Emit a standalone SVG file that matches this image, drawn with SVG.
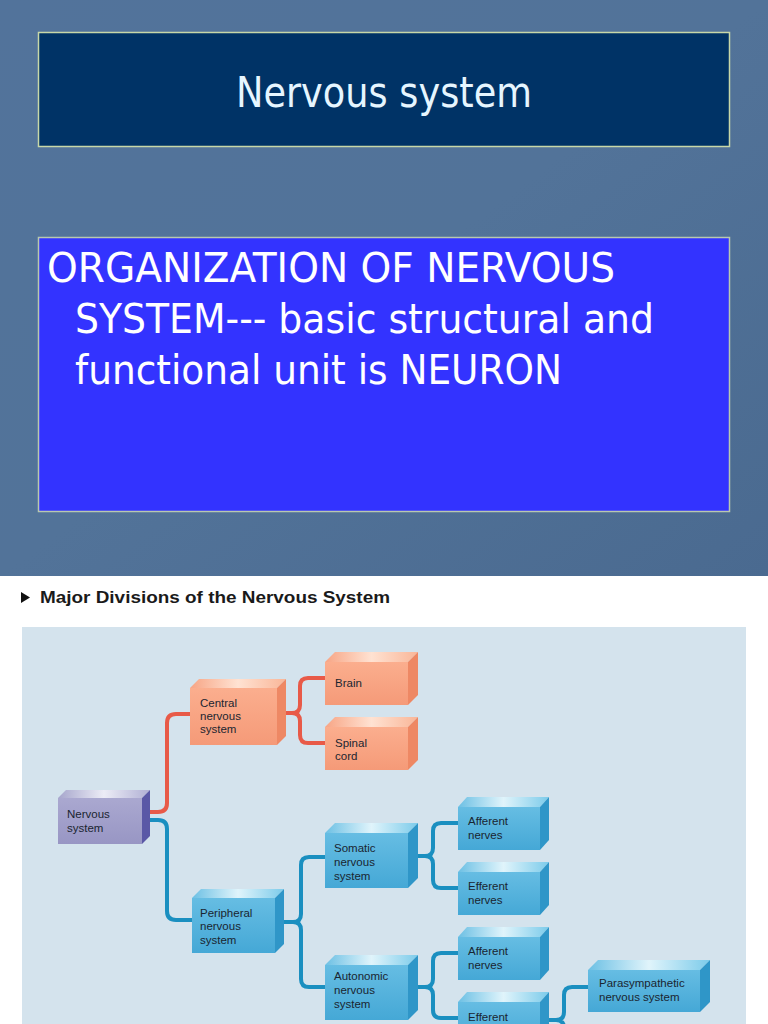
<svg xmlns="http://www.w3.org/2000/svg" width="768" height="1024" viewBox="0 0 768 1024">
<defs>
<linearGradient id="slideBg" x1="0" y1="0" x2="1" y2="1">
<stop offset="0" stop-color="#52739b"/>
<stop offset="0.5" stop-color="#527399"/>
<stop offset="1" stop-color="#4a6a90"/>
</linearGradient>
<linearGradient id="salFront" x1="0" y1="0" x2="0" y2="1"><stop offset="0" stop-color="#fbae8e"/><stop offset="1" stop-color="#f59a78"/></linearGradient>
<linearGradient id="bluFront" x1="0" y1="0" x2="0" y2="1"><stop offset="0" stop-color="#66bde3"/><stop offset="1" stop-color="#45a8d6"/></linearGradient>
<linearGradient id="purFront" x1="0" y1="0" x2="0" y2="1"><stop offset="0" stop-color="#aaa8d0"/><stop offset="1" stop-color="#9896c4"/></linearGradient>
<linearGradient id="salTop" x1="0" y1="0" x2="1" y2="0"><stop offset="0" stop-color="#f7a585"/><stop offset="0.5" stop-color="#ffe2d2"/><stop offset="1" stop-color="#f9b698"/></linearGradient>
<linearGradient id="bluTop" x1="0" y1="0" x2="1" y2="0"><stop offset="0" stop-color="#6cc0e4"/><stop offset="0.5" stop-color="#e0f4fb"/><stop offset="1" stop-color="#7ccbea"/></linearGradient>
<linearGradient id="purTop" x1="0" y1="0" x2="1" y2="0"><stop offset="0" stop-color="#a6a6cc"/><stop offset="0.5" stop-color="#ececf6"/><stop offset="1" stop-color="#b0b0d4"/></linearGradient>
</defs>
<style>
.nodeTxt{font-family:"Liberation Sans",Arial,sans-serif;font-size:11.5px;fill:#1a2530}
.sal .front{fill:url(#salFront)} .sal .top{fill:url(#salTop)} .sal .side{fill:#ee8864}
.blu .front{fill:url(#bluFront)} .blu .top{fill:url(#bluTop)} .blu .side{fill:#2f96c8}
.pur .front{fill:url(#purFront)} .pur .top{fill:url(#purTop)} .pur .side{fill:#5a58a6}
.red{fill:none;stroke:#e85a48;stroke-width:4}
.blue{fill:none;stroke:#1a8fc0;stroke-width:4}
</style>

<!-- slide background -->
<rect x="0" y="0" width="768" height="576" fill="url(#slideBg)"/>
<g id="title">
<rect x="38.5" y="32.5" width="691" height="114" fill="#003366" stroke="#c8d8a8" stroke-width="1.5"/>
<text x="384" y="107" text-anchor="middle" font-family="DejaVu Sans Condensed,DejaVu Sans,sans-serif" font-size="43" fill="#e6f6ff" textLength="296" lengthAdjust="spacingAndGlyphs">Nervous system</text>
</g>
<g id="content">
<rect x="38.5" y="237.5" width="691" height="274" fill="#3333ff" stroke="#b8c8b0" stroke-width="1.5"/>
<g font-family="DejaVu Sans Condensed,DejaVu Sans,sans-serif" font-size="41" fill="#ffffff">
<text x="47" y="282" textLength="568" lengthAdjust="spacingAndGlyphs">ORGANIZATION OF NERVOUS</text>
<text x="75" y="333" textLength="579" lengthAdjust="spacingAndGlyphs">SYSTEM--- basic structural and</text>
<text x="75" y="384" textLength="487" lengthAdjust="spacingAndGlyphs">functional unit is NEURON</text>
</g>
</g>

<!-- lower figure -->
<rect x="0" y="576" width="768" height="448" fill="#ffffff"/>
<g id="figure-heading">
<polygon points="21,592 30,597.5 21,603" fill="#111"/>
<text x="40" y="603" font-family="Liberation Sans,Arial,sans-serif" font-weight="bold" font-size="16" fill="#1a1a1a" textLength="350" lengthAdjust="spacingAndGlyphs">Major Divisions of the Nervous System</text>
</g>
<rect x="22" y="627" width="724" height="397" fill="#d4e3ed"/>

<g id="connectors">
<path class="red" d="M145,812 H158 Q167,812 167,803 V723 Q167,714 176,714 H191"/>
<path class="blue" d="M145,820 H158 Q167,820 167,829 V911 Q167,920 176,920 H193"/>
<path class="red" d="M284,713 H292 Q300,713 300,705 V686 Q300,678 308,678 H326 M292,713 Q300,713 300,721 V735 Q300,743 308,743 H326"/>
<path class="blue" d="M282,922 H293 Q301,922 301,914 V865 Q301,857 309,857 H326 M293,922 Q301,922 301,930 V979 Q301,987 309,987 H326"/>
<path class="blue" d="M417,856 H425 Q433,856 433,848 V831 Q433,823 441,823 H459 M425,856 Q433,856 433,864 V880 Q433,888 441,888 H459"/>
<path class="blue" d="M417,987 H425 Q433,987 433,979 V961 Q433,953 441,953 H459 M425,987 Q433,987 433,995 V1010 Q433,1018 441,1018 H459"/>
<path class="blue" d="M547,1020 H556 Q564,1020 564,1012 V995 Q564,987 572,987 H589 M556,1020 Q564,1020 564,1028"/>
</g>

<g id="node-nervous" class="pur">
<polygon class="top" points="58,798 66,790 150,790 142,798"/>
<polygon class="side" points="142,798 150,790 150,836 142,844"/>
<rect class="front" x="58" y="798" width="84" height="46"/>
<text class="nodeTxt" x="67" y="818">Nervous</text>
<text class="nodeTxt" x="67" y="832">system</text>
</g>

<g id="node-cns" class="sal">
<polygon class="top" points="190,688 199,679 286,679 277,688"/>
<polygon class="side" points="277,688 286,679 286,736 277,745"/>
<rect class="front" x="190" y="688" width="87" height="57"/>
<text class="nodeTxt" x="200" y="707">Central</text>
<text class="nodeTxt" x="200" y="720">nervous</text>
<text class="nodeTxt" x="200" y="733">system</text>
</g>

<g id="node-brain" class="sal">
<polygon class="top" points="325,662 335,652 418,652 408,662"/>
<polygon class="side" points="408,662 418,652 418,695 408,705"/>
<rect class="front" x="325" y="662" width="83" height="43"/>
<text class="nodeTxt" x="335" y="687">Brain</text>
</g>

<g id="node-spinal" class="sal">
<polygon class="top" points="325,727 335,717 418,717 408,727"/>
<polygon class="side" points="408,727 418,717 418,760 408,770"/>
<rect class="front" x="325" y="727" width="83" height="43"/>
<text class="nodeTxt" x="335" y="747">Spinal</text>
<text class="nodeTxt" x="335" y="760">cord</text>
</g>

<g id="node-peripheral" class="blu">
<polygon class="top" points="192,898 201,889 284,889 275,898"/>
<polygon class="side" points="275,898 284,889 284,944 275,953"/>
<rect class="front" x="192" y="898" width="83" height="55"/>
<text class="nodeTxt" x="200" y="917">Peripheral</text>
<text class="nodeTxt" x="200" y="930">nervous</text>
<text class="nodeTxt" x="200" y="944">system</text>
</g>

<g id="node-somatic" class="blu">
<polygon class="top" points="325,833 335,823 418,823 408,833"/>
<polygon class="side" points="408,833 418,823 418,878 408,888"/>
<rect class="front" x="325" y="833" width="83" height="55"/>
<text class="nodeTxt" x="334" y="852">Somatic</text>
<text class="nodeTxt" x="334" y="866">nervous</text>
<text class="nodeTxt" x="334" y="880">system</text>
</g>

<g id="node-autonomic" class="blu">
<polygon class="top" points="325,965 335,955 418,955 408,965"/>
<polygon class="side" points="408,965 418,955 418,1010 408,1020"/>
<rect class="front" x="325" y="965" width="83" height="55"/>
<text class="nodeTxt" x="334" y="980">Autonomic</text>
<text class="nodeTxt" x="334" y="994">nervous</text>
<text class="nodeTxt" x="334" y="1008">system</text>
</g>

<g id="node-afferent-somatic" class="blu">
<polygon class="top" points="458,807 467,797 549,797 540,807"/>
<polygon class="side" points="540,807 549,797 549,840 540,850"/>
<rect class="front" x="458" y="807" width="82" height="43"/>
<text class="nodeTxt" x="468" y="825">Afferent</text>
<text class="nodeTxt" x="468" y="839">nerves</text>
</g>

<g id="node-efferent-somatic" class="blu">
<polygon class="top" points="458,872 467,862 549,862 540,872"/>
<polygon class="side" points="540,872 549,862 549,905 540,915"/>
<rect class="front" x="458" y="872" width="82" height="43"/>
<text class="nodeTxt" x="468" y="890">Efferent</text>
<text class="nodeTxt" x="468" y="904">nerves</text>
</g>

<g id="node-afferent-autonomic" class="blu">
<polygon class="top" points="458,937 467,927 549,927 540,937"/>
<polygon class="side" points="540,937 549,927 549,970 540,980"/>
<rect class="front" x="458" y="937" width="82" height="43"/>
<text class="nodeTxt" x="468" y="955">Afferent</text>
<text class="nodeTxt" x="468" y="969">nerves</text>
</g>

<g id="node-efferent-autonomic" class="blu">
<polygon class="top" points="458,1002 467,992 549,992 540,1002"/>
<polygon class="side" points="540,1002 549,992 549,1035 540,1045"/>
<rect class="front" x="458" y="1002" width="82" height="43"/>
<text class="nodeTxt" x="468" y="1021">Efferent</text>
</g>

<g id="node-parasympathetic" class="blu">
<polygon class="top" points="588,970 598,960 710,960 700,970"/>
<polygon class="side" points="700,970 710,960 710,1002 700,1012"/>
<rect class="front" x="588" y="970" width="112" height="42"/>
<text class="nodeTxt" x="599" y="987">Parasympathetic</text>
<text class="nodeTxt" x="599" y="1001">nervous system</text>
</g>
</svg>
